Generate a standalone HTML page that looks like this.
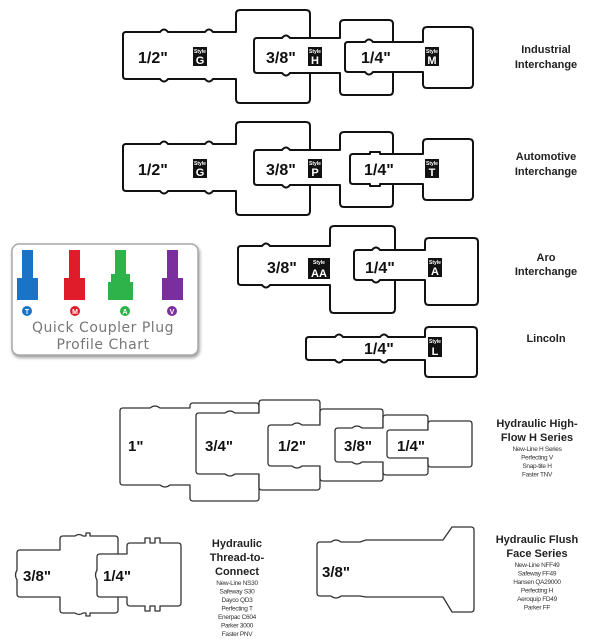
<!DOCTYPE html>
<html><head><meta charset="utf-8"><style>
html,body{margin:0;padding:0;background:#fff;}
svg{display:block;font-family:"Liberation Sans",Arial,sans-serif;}
.s{fill:#fff;stroke:#111;stroke-width:2;stroke-linejoin:round}
.h{fill:#fff;stroke:#333;stroke-width:1.3;stroke-linejoin:round}
.lb{font-weight:bold;font-size:16px;fill:#111}
.hl{font-weight:bold;font-size:15px;fill:#111}
.t{font-weight:bold;font-size:11px;fill:#222;text-anchor:middle}
.sm{font-size:6.5px;fill:#333;text-anchor:middle;letter-spacing:-0.3px}
.st{font-size:5px;fill:#fff;text-anchor:middle;font-weight:bold}
.sl{font-size:11px;fill:#fff;text-anchor:middle;font-weight:bold}
</style></head><body>
<svg width="600" height="643" viewBox="0 0 600 643" xmlns="http://www.w3.org/2000/svg">
<!-- Row 1 Industrial -->
<g>
<path class="s" d="M123,35 q0,-3 3,-3 H160 q4,-5 8,0 H205 q4,-5 8,0 H236 V14 q0,-4 4,-4 H306 q4,0 4,4 V99 q0,4 -4,4 H240 q-4,0 -4,-4 V79 H213 q-4,5 -8,0 H168 q-4,5 -8,0 H126 q-3,0 -3,-3 Z"/>
<path class="s" d="M254,41 q0,-3 3,-3 H282 q4,-5 8,0 H340 V24 q0,-4 4,-4 H389 q4,0 4,4 V91 q0,4 -4,4 H344 q-4,0 -4,-4 V73 H290 q-4,5 -8,0 H257 q-3,0 -3,-3 Z"/>
<path class="s" d="M345,45 q0,-3 3,-3 H365 q4,-5 8,0 H423 V31 q0,-4 4,-4 H469 q4,0 4,4 V84 q0,4 -4,4 H427 q-4,0 -4,-4 V72 H373 q-4,5 -8,0 H348 q-3,0 -3,-3 Z"/>
<text class="lb" x="138" y="63">1/2"</text>
<rect x="193" y="47" width="14" height="19" fill="#111"/><text class="st" x="200" y="53">Style</text><text class="sl" x="200" y="64">G</text>
<text class="lb" x="266" y="63">3/8"</text>
<rect x="308" y="47" width="14" height="19" fill="#111"/><text class="st" x="315" y="53">Style</text><text class="sl" x="315" y="64">H</text>
<text class="lb" x="361" y="63">1/4"</text>
<rect x="425" y="47" width="14" height="19" fill="#111"/><text class="st" x="432" y="53">Style</text><text class="sl" x="432" y="64">M</text>
<text class="t" x="546" y="53">Industrial</text><text class="t" x="546" y="68">Interchange</text>
</g>
<!-- Row 2 Automotive -->
<g transform="translate(0,112)">
<path class="s" d="M123,35 q0,-3 3,-3 H160 q4,-5 8,0 H205 q4,-5 8,0 H236 V14 q0,-4 4,-4 H306 q4,0 4,4 V99 q0,4 -4,4 H240 q-4,0 -4,-4 V79 H213 q-4,5 -8,0 H168 q-4,5 -8,0 H126 q-3,0 -3,-3 Z"/>
<path class="s" d="M254,41 q0,-3 3,-3 H282 q4,-5 8,0 H340 V24 q0,-4 4,-4 H389 q4,0 4,4 V91 q0,4 -4,4 H344 q-4,0 -4,-4 V73 H290 q-4,5 -8,0 H257 q-3,0 -3,-3 Z"/>
<path class="s" d="M350,45 q0,-3 3,-3 H370 V40 H380 V42 H423 V31 q0,-4 4,-4 H469 q4,0 4,4 V84 q0,4 -4,4 H427 q-4,0 -4,-4 V72 H380 V74 H370 V72 H353 q-3,0 -3,-3 Z"/>
<text class="lb" x="138" y="63">1/2"</text>
<rect x="193" y="47" width="14" height="19" fill="#111"/><text class="st" x="200" y="53">Style</text><text class="sl" x="200" y="64">G</text>
<text class="lb" x="266" y="63">3/8"</text>
<rect x="308" y="47" width="14" height="19" fill="#111"/><text class="st" x="315" y="53">Style</text><text class="sl" x="315" y="64">P</text>
<text class="lb" x="364" y="63">1/4"</text>
<rect x="425" y="47" width="14" height="19" fill="#111"/><text class="st" x="432" y="53">Style</text><text class="sl" x="432" y="64">T</text>
<text class="t" x="546" y="48">Automotive</text><text class="t" x="546" y="63">Interchange</text>
</g>
<!-- Row 3 Aro -->
<path class="s" d="M238,249 q0,-3 3,-3 H262 q4,-5 8,0 H330 V230 q0,-4 4,-4 H391 q4,0 4,4 V309 q0,4 -4,4 H334 q-4,0 -4,-4 V285 H270 q-4,5 -8,0 H241 q-3,0 -3,-3 Z"/>
<path class="s" d="M354,253 q0,-3 3,-3 H372 q4,-5 8,0 H425 V242 q0,-4 4,-4 H474 q4,0 4,4 V301 q0,4 -4,4 H429 q-4,0 -4,-4 V280 H380 q-4,5 -8,0 H357 q-3,0 -3,-3 Z"/>
<text class="lb" x="267" y="273">3/8"</text>
<rect x="308" y="258" width="22" height="21" fill="#111"/><text class="st" x="319" y="264">Style</text><text class="sl" x="319" y="277">AA</text>
<text class="lb" x="365" y="273">1/4"</text>
<rect x="428" y="258" width="14" height="19" fill="#111"/><text class="st" x="435" y="264">Style</text><text class="sl" x="435" y="275">A</text>
<text class="t" x="546" y="261">Aro</text><text class="t" x="546" y="275">Interchange</text>
<!-- Lincoln -->
<path class="s" d="M306,340 q0,-3 3,-3 H335 q4,-5 8,0 H380 q4,-5 8,0 H425 V331 q0,-4 4,-4 H473 q4,0 4,4 V373 q0,4 -4,4 H429 q-4,0 -4,-4 V360 H388 q-4,5 -8,0 H343 q-4,5 -8,0 H309 q-3,0 -3,-3 Z"/>
<text class="lb" x="364" y="354">1/4"</text>
<rect x="428" y="337" width="14" height="20" fill="#111"/><text class="st" x="435" y="343">Style</text><text class="sl" x="435" y="355">L</text>
<text class="t" x="546" y="342">Lincoln</text>
<!-- Left box -->
<rect x="12" y="244" width="186" height="111" rx="7" fill="#fff" stroke="#aaa" stroke-width="1.5" style="filter:drop-shadow(1px 2px 1.5px #999)"/>
<g>
<path fill="#1a73c4" d="M22,250 h11 v28 h5 v22 h-21 v-22 h5 Z"/>
<path fill="#e01b2a" d="M69,250 h11 v28 h5 v22 h-21 v-22 h5 Z"/>
<path fill="#2db34a" d="M115,250 h11 v24 h4 v8 h3 v18 h-25 v-18 h3 v-8 h4 Z"/>
<path fill="#7b2f9e" d="M167,250 h11 v28 h5 v22 h-21 v-22 h5 Z"/>
<circle cx="27" cy="311" r="5" fill="#1a73c4"/><text x="27" y="314" font-size="7" fill="#fff" text-anchor="middle" font-weight="bold">T</text>
<circle cx="75" cy="311" r="5" fill="#e01b2a"/><text x="75" y="314" font-size="7" fill="#fff" text-anchor="middle" font-weight="bold">M</text>
<circle cx="125" cy="311" r="5" fill="#2db34a"/><text x="125" y="314" font-size="7" fill="#fff" text-anchor="middle" font-weight="bold">A</text>
<circle cx="172" cy="311" r="5" fill="#7b2f9e"/><text x="172" y="314" font-size="7" fill="#fff" text-anchor="middle" font-weight="bold">V</text>
<text x="103" y="332" font-family="DejaVu Sans,sans-serif" font-size="14" fill="#777" text-anchor="middle" letter-spacing="0.5">Quick Coupler Plug</text>
<text x="103" y="349" font-family="DejaVu Sans,sans-serif" font-size="14" fill="#777" text-anchor="middle" letter-spacing="0.5">Profile Chart</text>
</g>
<!-- Hydraulic High-Flow -->
<path class="h" d="M120,411 q0,-3 3,-3 H150 q5,-4 10,0 H190 V406 q0,-3 3,-3 H256 q3,0 3,3 V498 q0,3 -3,3 H193 q-3,0 -3,-3 V485 H170 q-5,4 -10,0 H123 q-3,0 -3,-3 Z"/>
<path class="h" d="M196,416 q0,-3 3,-3 H225 q5,-4 10,0 H259 V403 q0,-3 3,-3 H317 q3,0 3,3 V487 q0,3 -3,3 H262 q-3,0 -3,-3 V474 H235 q-5,4 -10,0 H199 q-3,0 -3,-3 Z"/>
<path class="h" d="M268,428 q0,-3 3,-3 H292 q5,-4 10,0 H320 V412 q0,-3 3,-3 H380 q3,0 3,3 V478 q0,3 -3,3 H323 q-3,0 -3,-3 V466 H302 q-5,4 -10,0 H271 q-3,0 -3,-3 Z"/>
<path class="h" d="M335,431 q0,-3 3,-3 H352 q5,-4 10,0 H383 V418 q0,-3 3,-3 H425 q3,0 3,3 V472 q0,3 -3,3 H386 q-3,0 -3,-3 V462 H362 q-5,4 -10,0 H338 q-3,0 -3,-3 Z"/>
<path class="h" d="M387,433 q0,-3 3,-3 H428 V424 q0,-3 3,-3 H469 q3,0 3,3 V464 q0,3 -3,3 H431 q-3,0 -3,-3 V458 H390 q-3,0 -3,-3 Z"/>
<text class="hl" x="128" y="451">1"</text>
<text class="hl" x="205" y="451">3/4"</text>
<text class="hl" x="278" y="451">1/2"</text>
<text class="hl" x="344" y="451">3/8"</text>
<text class="hl" x="397" y="451">1/4"</text>
<text class="t" x="537" y="427">Hydraulic High-</text>
<text class="t" x="537" y="441">Flow H Series</text>
<text class="sm" x="537" y="451">New-Line H Series</text>
<text class="sm" x="537" y="459.5">Perfecting V</text>
<text class="sm" x="537" y="468">Snap-tite H</text>
<text class="sm" x="537" y="476.5">Faster TNV</text>
<!-- Thread-to-connect -->
<path class="h" d="M17,553 q0,-3 3,-3 H60 V539 q0,-3 3,-3 H75 q4,-3 8,0 H86 V533 H90 V536 H115 q3,0 3,3 V610 q0,3 -3,3 H90 V616 H86 V613 H83 q-4,3 -8,0 H63 q-3,0 -3,-3 V597 H20 q-3,0 -3,-3 V580 q-3,-5 0,-10 Z"/>
<path class="h" d="M97,557 q0,-3 3,-3 H127 V546 q0,-3 3,-3 H145 V538 H150 V543 H155 V538 H160 V543 H178 q3,0 3,3 V603 q0,3 -3,3 H160 V611 H155 V606 H150 V611 H145 V606 H130 q-3,0 -3,-3 V597 H100 q-3,0 -3,-3 V580 q-3,-5 0,-10 Z"/>
<text class="hl" x="23" y="581">3/8"</text>
<text class="hl" x="103" y="581">1/4"</text>
<text class="t" x="237" y="547">Hydraulic</text>
<text class="t" x="237" y="561">Thread-to-</text>
<text class="t" x="237" y="575">Connect</text>
<text class="sm" x="237" y="585">New-Line NS30</text>
<text class="sm" x="237" y="593.5">Safeway S30</text>
<text class="sm" x="237" y="602">Dayco QD3</text>
<text class="sm" x="237" y="610.5">Perfecting T</text>
<text class="sm" x="237" y="619">Enerpac C604</text>
<text class="sm" x="237" y="627.5">Parker 3000</text>
<text class="sm" x="237" y="636">Faster PNV</text>
<!-- Flush face -->
<path class="h" d="M317,545 q0,-3 3,-3 H331 q5,-4 10,0 H360 L366,540 H443 L452,527 H471 q3,0 3,3 V609 q0,3 -3,3 H452 L443,597 H366 L360,596 H341 q-5,4 -10,0 H320 q-3,0 -3,-3 Z"/>
<text class="hl" x="322" y="577">3/8"</text>
<text class="t" x="537" y="543">Hydraulic Flush</text>
<text class="t" x="537" y="557">Face Series</text>
<text class="sm" x="537" y="567">New-Line NFF49</text>
<text class="sm" x="537" y="575.5">Safeway FF49</text>
<text class="sm" x="537" y="584">Hansen QA29000</text>
<text class="sm" x="537" y="592.5">Perfecting H</text>
<text class="sm" x="537" y="601">Aeroquip FD49</text>
<text class="sm" x="537" y="609.5">Parker FF</text>
</svg>
</body></html>
